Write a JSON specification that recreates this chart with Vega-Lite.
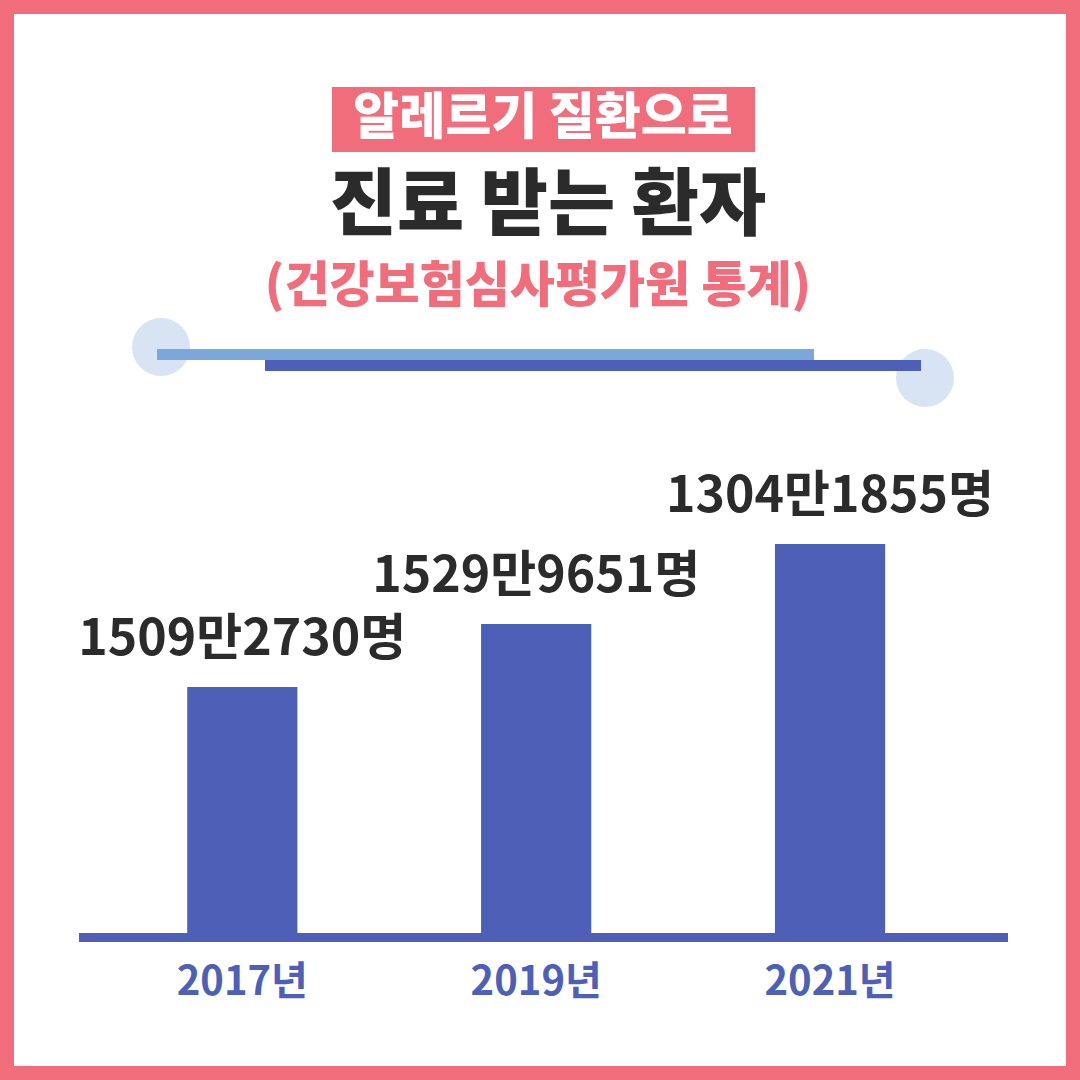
{
  "$schema": "https://vega.github.io/schema/vega-lite/v6.json",
  "width": 1080,
  "height": 1080,
  "autosize": {"type": "fit", "contains": "padding"},
  "padding": 0,
  "background": "#FFFFFF",
  "config": {
    "view": {"stroke": "#F26D7C", "strokeWidth": 28},
    "axis": {"disable": true},
    "text": {"font": "Noto Sans CJK KR", "fontWeight": "bold"}
  },
  "layer": [
    {
      "data": {"values": [{"k": 1}]},
      "layer": [
        {
          "mark": {"type": "point", "filled": true, "color": "#D8E4F3", "opacity": 1, "size": 3364, "shape": "circle"},
          "encoding": {
            "x": {"datum": 161, "type": "quantitative", "scale": {"domain": [0, 1080], "nice": false, "zero": false}},
            "y": {"datum": 347, "type": "quantitative", "scale": {"domain": [0, 1080], "nice": false, "zero": false, "reverse": true}}
          }
        },
        {
          "mark": {"type": "point", "filled": true, "color": "#D8E4F3", "opacity": 1, "size": 3364, "shape": "circle"},
          "encoding": {
            "x": {"datum": 925, "type": "quantitative", "scale": {"domain": [0, 1080], "nice": false, "zero": false}},
            "y": {"datum": 378, "type": "quantitative", "scale": {"domain": [0, 1080], "nice": false, "zero": false, "reverse": true}}
          }
        },
        {
          "mark": {"type": "rect", "color": "#7BA7D9"},
          "encoding": {
            "x": {"datum": 157, "type": "quantitative", "scale": {"domain": [0, 1080], "nice": false, "zero": false}},
            "x2": {"datum": 814},
            "y": {"datum": 349, "type": "quantitative", "scale": {"domain": [0, 1080], "nice": false, "zero": false, "reverse": true}},
            "y2": {"datum": 360}
          }
        },
        {
          "mark": {"type": "rect", "color": "#4E5FB8"},
          "encoding": {
            "x": {"datum": 265, "type": "quantitative", "scale": {"domain": [0, 1080], "nice": false, "zero": false}},
            "x2": {"datum": 921},
            "y": {"datum": 360, "type": "quantitative", "scale": {"domain": [0, 1080], "nice": false, "zero": false, "reverse": true}},
            "y2": {"datum": 371}
          }
        },
        {
          "mark": {"type": "rect", "color": "#F26D7C"},
          "encoding": {
            "x": {"datum": 332, "type": "quantitative", "scale": {"domain": [0, 1080], "nice": false, "zero": false}},
            "x2": {"datum": 755},
            "y": {"datum": 87, "type": "quantitative", "scale": {"domain": [0, 1080], "nice": false, "zero": false, "reverse": true}},
            "y2": {"datum": 152}
          }
        },
        {
          "data": {"values": [{"t": "알레르기 질환으로"}]},
          "mark": {"type": "text", "color": "#FFFFFF", "fontSize": 50, "fontWeight": 900, "baseline": "middle", "align": "center"},
          "encoding": {
            "text": {"field": "t"},
            "x": {"datum": 543, "type": "quantitative", "scale": {"domain": [0, 1080], "nice": false, "zero": false}},
            "y": {"datum": 119, "type": "quantitative", "scale": {"domain": [0, 1080], "nice": false, "zero": false, "reverse": true}}
          }
        },
        {
          "data": {"values": [{"t": "진료 받는 환자"}]},
          "mark": {"type": "text", "color": "#2B2B2B", "fontSize": 73, "fontWeight": 900, "baseline": "middle", "align": "center"},
          "encoding": {
            "text": {"field": "t"},
            "x": {"datum": 548, "type": "quantitative", "scale": {"domain": [0, 1080], "nice": false, "zero": false}},
            "y": {"datum": 207, "type": "quantitative", "scale": {"domain": [0, 1080], "nice": false, "zero": false, "reverse": true}}
          }
        },
        {
          "data": {"values": [{"t": "(건강보험심사평가원 통계)"}]},
          "mark": {"type": "text", "color": "#F26D7C", "fontSize": 49, "fontWeight": 900, "baseline": "middle", "align": "center"},
          "encoding": {
            "text": {"field": "t"},
            "x": {"datum": 538, "type": "quantitative", "scale": {"domain": [0, 1080], "nice": false, "zero": false}},
            "y": {"datum": 287, "type": "quantitative", "scale": {"domain": [0, 1080], "nice": false, "zero": false, "reverse": true}}
          }
        },
        {
          "mark": {"type": "rect", "color": "#4E5FB8"},
          "encoding": {
            "x": {"datum": 79, "type": "quantitative", "scale": {"domain": [0, 1080], "nice": false, "zero": false}},
            "x2": {"datum": 1008},
            "y": {"datum": 933, "type": "quantitative", "scale": {"domain": [0, 1080], "nice": false, "zero": false, "reverse": true}},
            "y2": {"datum": 942}
          }
        }
      ]
    },
    {
      "data": {
        "values": [
          {"year": "2017년", "h": 250, "label": "1509만2730명"},
          {"year": "2019년", "h": 313, "label": "1529만9651명"},
          {"year": "2021년", "h": 393, "label": "1304만1855명"}
        ]
      },
      "encoding": {
        "x": {"field": "year", "type": "nominal", "sort": null, "scale": {"paddingInner": 0.625, "paddingOuter": 0.65, "align": 0.49}},
        "y": {"field": "h", "type": "quantitative", "scale": {"domain": [-143, 937], "nice": false, "zero": false}}
      },
      "layer": [
        {"mark": {"type": "bar", "color": "#4E5FB8", "width": {"band": 1}}},
        {
          "mark": {"type": "text", "color": "#2B2B2B", "fontSize": 50, "baseline": "middle", "align": "center", "dy": -47},
          "encoding": {"text": {"field": "label"}}
        },
        {
          "mark": {"type": "text", "color": "#4E5FB8", "fontSize": 40, "baseline": "middle", "align": "center", "dy": 46},
          "encoding": {
            "text": {"field": "year"},
            "y": {"datum": 0, "type": "quantitative", "scale": {"domain": [-143, 937], "nice": false, "zero": false}}
          }
        }
      ]
    }
  ],
  "resolve": {"scale": {"x": "independent", "y": "independent"}}
}
